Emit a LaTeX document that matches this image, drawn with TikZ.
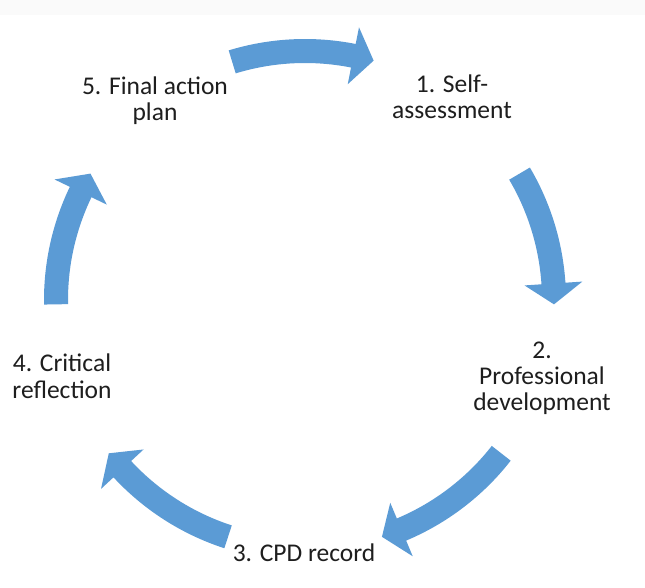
\documentclass[tikz,border=0pt]{standalone}
\usepackage{fontspec}
\setmainfont{Carlito}
\usetikzlibrary{calc}
\definecolor{arrowblue}{HTML}{5B9BD5}
\definecolor{txt}{HTML}{1E1E1E}
\tikzset{
  lbl/.style={inner sep=0pt, anchor=base, text=txt, font=\fontsize{25.5}{26}\selectfont},
  cyclearrow/.style={fill=arrowblue, draw=none}
}
% #1 tail angle, #2 tip angle (clockwise: #1 > #2)
\newcommand{\cycarrow}[2]{%
  \pgfmathsetmacro{\hb}{#2+4.8}%
  \fill[cyclearrow] ($(C)+(#1:261)$) arc[start angle=#1, end angle=\hb, radius=261]
    -- ($(C)+(\hb:278)$) -- ($(C)+(#2:249)$) -- ($(C)+(\hb:220)$)
    -- ($(C)+(\hb:237)$) arc[start angle=\hb, end angle=#1, radius=237] -- cycle;}
\begin{document}
\begin{tikzpicture}[x=1pt,y=1pt]
  \useasboundingbox (0,0) rectangle (645,587);
  \fill[white] (0,0) rectangle (645,587);
  \fill[gray!4] (0,572) rectangle (645,587);
  \coordinate (C) at (305,287);
  \cycarrow{107}{74}
  \cycarrow{30.5}{-1}
  \cycarrow{-38}{-72}
  \cycarrow{-108}{-142}
  \cycarrow{181}{149.5}
  \node[lbl] (n1) at (452,494) {\begin{tabular}[t]{@{}c@{}}1. Self-\\assessment\end{tabular}};
  \node[lbl] (n2) at (542,229) {\begin{tabular}[t]{@{}c@{}}2.\\Professional\\development\end{tabular}};
  \node[lbl] (n3) at (304,26) {3. CPD record};
  \node[lbl] (n4) at (62,215) {\begin{tabular}[t]{@{}c@{}}4. Critical\\reflection\end{tabular}};
  \node[lbl] (n5) at (155,492) {\begin{tabular}[t]{@{}c@{}}5. Final action\\plan\end{tabular}};
\end{tikzpicture}
\end{document}
